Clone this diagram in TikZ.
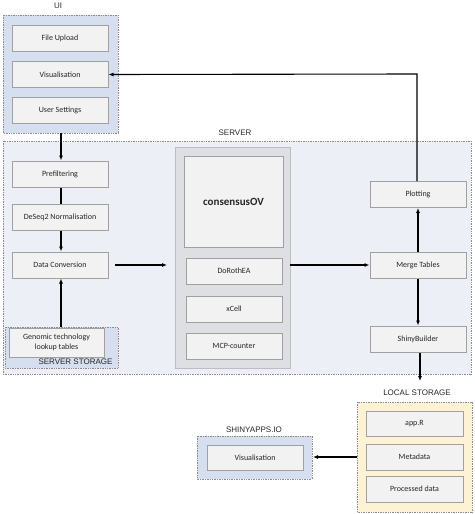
\documentclass[tikz,border=0pt]{standalone}
\usepackage{fontspec}
\setmainfont{Carlito}
\newfontfamily\labfont{Liberation Sans}
\usetikzlibrary{arrows.meta}
\definecolor{bluefill}{HTML}{D5DFF0}
\definecolor{serverfill}{HTML}{ECEFF5}
\definecolor{nodefill}{HTML}{F2F2F2}
\definecolor{nodeline}{HTML}{A0A0A0}
\definecolor{greyfill}{HTML}{DEDFE2}
\definecolor{yellowfill}{HTML}{FDF2D3}
\definecolor{dashline}{HTML}{8C8C8C}
\definecolor{txt}{HTML}{262626}
\tikzset{
  grp/.style={draw=dashline, densely dotted, line width=0.7pt},
  proc/.style={draw=nodeline, fill=nodefill, line width=1pt, text=txt, font=\fontsize{8}{9}\selectfont},
  lab/.style={text=txt, font=\labfont\fontsize{8}{9}\selectfont},
  arr/.style={-{Latex[length=5pt,width=4pt]}, line width=1.1pt},
  ln/.style={line width=1.1pt}
}
\begin{document}
\begin{tikzpicture}[x=1pt,y=-1pt]
\useasboundingbox (0,0) rectangle (474,514);
% group boxes
\filldraw[grp, fill=serverfill] (3,141) rectangle (471,374);
\filldraw[grp, fill=bluefill] (3,15) rectangle (118,133);
\filldraw[grp, fill=bluefill] (5,327) rectangle (118,368);
\filldraw[draw=nodeline!70, fill=greyfill, line width=0.7pt] (175,147) rectangle (290,368);
\filldraw[grp, fill=yellowfill] (357,402) rectangle (472,512);
\filldraw[grp, fill=bluefill] (197,436) rectangle (312,479);
% group labels
\node[lab] (lui) at (58,6) {UI};
\node[lab] (lsrv) at (235,133) {SERVER};
\node[lab, anchor=east] (lss) at (116,361.5) {SERVER STORAGE};
\node[lab] (lloc) at (417,393) {LOCAL STORAGE};
\node[lab] (lshiny) at (254,430) {SHINYAPPS.IO};
% UI nodes
\node[proc, minimum width=96, minimum height=26] (up) at (60,38) {File Upload};
\node[proc, minimum width=96, minimum height=26] (vis) at (60,74.5) {Visualisation};
\node[proc, minimum width=96, minimum height=26] (set) at (60,110.5) {User Settings};
% server left
\node[proc, minimum width=96, minimum height=26] (pre) at (60,174) {Prefiltering};
\node[proc, minimum width=96, minimum height=26] (des) at (60,217) {DeSeq2 Normalisation};
\node[proc, minimum width=96, minimum height=26] (dc) at (60,265) {Data Conversion};
\node[proc, minimum width=95, minimum height=29, align=center, font=\fontsize{8}{9.5}\selectfont] (gen) at (56.5,342.5) {Genomic technology\\lookup tables};
% consensus
\node[proc, minimum width=99, minimum height=91, font=\bfseries\fontsize{11}{13}\selectfont] (cons) at (233.5,201.5) {consensusOV};
\node[proc, minimum width=96, minimum height=26] (dor) at (234,271) {DoRothEA};
\node[proc, minimum width=96, minimum height=26] (xc) at (234,309) {xCell};
\node[proc, minimum width=96, minimum height=26] (mcp) at (234,346) {MCP-counter};
% server right
\node[proc, minimum width=96, minimum height=26] (plot) at (418,194.5) {Plotting};
\node[proc, minimum width=96, minimum height=26] (merge) at (418,265) {Merge Tables};
\node[proc, minimum width=96, minimum height=26] (shiny) at (418,339) {ShinyBuilder};
% local storage
\node[proc, minimum width=97, minimum height=25] (appr) at (414.5,423.5) {app.R};
\node[proc, minimum width=97, minimum height=26] (meta) at (414.5,457) {Metadata};
\node[proc, minimum width=97, minimum height=26] (proc) at (414.5,489) {Processed data};
% shinyapps
\node[proc, minimum width=96, minimum height=25] (svis) at (255,457.5) {Visualisation};
% connectors
\coordinate (topcorner) at (417,74);
\coordinate (uibot) at (61,133);
\coordinate (gtop) at (61,327);
\coordinate (dcend) at (167,265);
\coordinate (dcstart) at (115,265);
\coordinate (conR) at (290,265);
\coordinate (locin) at (420,381);
\coordinate (locL) at (357,457);
\coordinate (shR) at (313,457);
\draw[arr] (plot.north -| topcorner) -- (topcorner) -- (vis.east);
\draw[arr] (uibot) -- (pre.north -| uibot);
\draw[ln] (pre.south -| uibot) -- (des.north -| uibot);
\draw[arr] (des.south -| uibot) -- (dc.north -| uibot);
\draw[arr] (gtop) -- (dc.south -| gtop);
\draw[arr] (dcstart) -- (dcend);
\draw[arr] (conR) -- (merge.west);
\draw[arr] (merge.north) -- (plot.south);
\draw[arr] (merge.south) -- (shiny.north);
\draw[arr] (shiny.south -| locin) -- (locin);
\draw[arr] (locL) -- (shR);
\end{tikzpicture}
\end{document}
